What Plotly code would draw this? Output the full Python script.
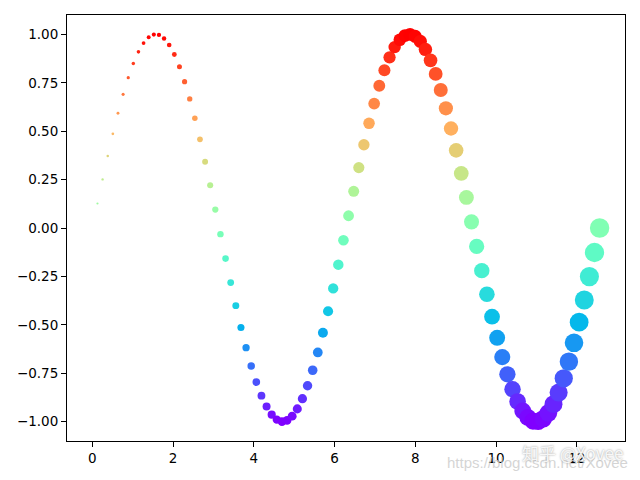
import math
import plotly.graph_objects as go

# x values (0 .. 4*pi, 100 points)
x_vals = [
    0.000, 0.127, 0.254, 0.381, 0.508, 0.635, 0.762, 0.889, 1.015, 1.142,
    1.269, 1.396, 1.523, 1.650, 1.777, 1.904, 2.031, 2.158, 2.285, 2.412,
    2.539, 2.666, 2.793, 2.919, 3.046, 3.173, 3.300, 3.427, 3.554, 3.681,
    3.808, 3.935, 4.062, 4.189, 4.316, 4.443, 4.570, 4.697, 4.823, 4.950,
    5.077, 5.204, 5.331, 5.458, 5.585, 5.712, 5.839, 5.966, 6.093, 6.220,
    6.347, 6.474, 6.601, 6.727, 6.854, 6.981, 7.108, 7.235, 7.362, 7.489,
    7.616, 7.743, 7.870, 7.997, 8.124, 8.251, 8.378, 8.505, 8.631, 8.758,
    8.885, 9.012, 9.139, 9.266, 9.393, 9.520, 9.647, 9.774, 9.901, 10.028,
    10.155, 10.282, 10.409, 10.535, 10.662, 10.789, 10.916, 11.043, 11.170, 11.297,
    11.424, 11.551, 11.678, 11.805, 11.932, 12.059, 12.186, 12.313, 12.439, 12.566,
]

y_vals = [
    0.0000, 0.1266, 0.2511, 0.3717, 0.4862, 0.5929, 0.6901, 0.7761, 0.8497, 0.9096,
    0.9549, 0.9848, 0.9989, 0.9969, 0.9788, 0.9450, 0.8960, 0.8326, 0.7557, 0.6668,
    0.5671, 0.4582, 0.3420, 0.2203, 0.0951, -0.0317, -0.1580, -0.2817, -0.4009, -0.5137,
    -0.6182, -0.7127, -0.7958, -0.8660, -0.9224, -0.9639, -0.9898, -0.9999, -0.9938, -0.9718,
    -0.9342, -0.8815, -0.8146, -0.7346, -0.6428, -0.5406, -0.4298, -0.3120, -0.1893, -0.0634,
    0.0634, 0.1893, 0.3120, 0.4298, 0.5406, 0.6428, 0.7346, 0.8146, 0.8815, 0.9342,
    0.9718, 0.9938, 0.9999, 0.9898, 0.9639, 0.9224, 0.8660, 0.7958, 0.7127, 0.6182,
    0.5137, 0.4009, 0.2817, 0.1580, 0.0317, -0.0951, -0.2203, -0.3420, -0.4582, -0.5671,
    -0.6668, -0.7557, -0.8326, -0.8960, -0.9450, -0.9788, -0.9969, -0.9989, -0.9848, -0.9549,
    -0.9096, -0.8497, -0.7761, -0.6901, -0.5929, -0.4862, -0.3717, -0.2511, -0.1266, -0.0000,
]

x_ticks = [0, 2, 4, 6, 8, 10, 12]
y_ticks = [-1.0, -0.75, -0.5, -0.25, 0.0, 0.25, 0.5, 0.75, 1.0]

# matplotlib "rainbow" colormap sampled as a plotly colorscale
def rainbow(t):
    r = min(1.0, max(0.0, abs(2 * t - 0.5)))
    g = min(1.0, max(0.0, math.sin(math.pi * t)))
    b = min(1.0, max(0.0, math.cos(math.pi * t / 2)))
    return "rgb(%d,%d,%d)" % (round(r * 255), round(g * 255), round(b * 255))

n_stops = 41
colorscale = [[i / (n_stops - 1), rainbow(i / (n_stops - 1))] for i in range(n_stops)]

# marker diameter grows linearly with x (area ~ x^2)
sizes = [(1.39 * v + 2.0) if v > 0 else 0 for v in x_vals]

fig = go.Figure()
fig.add_trace(go.Scatter(
    x=x_vals, y=y_vals, mode="markers",
    marker=dict(size=sizes, color=y_vals, colorscale=colorscale,
                cmin=-1, cmax=1, line=dict(width=0), opacity=1),
    showlegend=False, hoverinfo="skip",
))

axis_common = dict(
    showline=True, linecolor="black", linewidth=1, mirror=True,
    ticks="outside", ticklen=5, tickwidth=1, tickcolor="black",
    showgrid=False, zeroline=False, automargin=False,
    tickfont=dict(family="DejaVu Sans", size=13.5, color="black"),
)

fig.update_xaxes(range=[-0.628, 13.195], tickvals=x_ticks,
                 ticktext=[str(t) for t in x_ticks], **axis_common)
fig.update_yaxes(range=[-1.1, 1.1], tickvals=y_ticks,
                 ticktext=[("%.2f" % t).replace("-", "\u2212") for t in y_ticks],
                 **axis_common)

fig.update_layout(
    width=632, height=472,
    margin=dict(l=59, r=15, t=7, b=39, pad=0),
    paper_bgcolor="white", plot_bgcolor="white",
    annotations=[
        dict(text="https://blog.csdn.net/Xovee", xref="paper", yref="paper",
             x=1.009, y=-0.05, xanchor="right", yanchor="middle", showarrow=False,
             font=dict(family="Liberation Sans", size=15, color="rgba(205,205,205,0.85)")),
        dict(text="知乎 @Xovee", xref="paper", yref="paper",
             x=1.0, y=-0.026, xanchor="right", yanchor="middle", showarrow=False,
             font=dict(family="Noto Sans CJK SC", size=17, color="rgba(255,255,255,0.9)",
                       shadow="0px 0px 2px #888")),
    ],
)

fig.write_html("out.html")
